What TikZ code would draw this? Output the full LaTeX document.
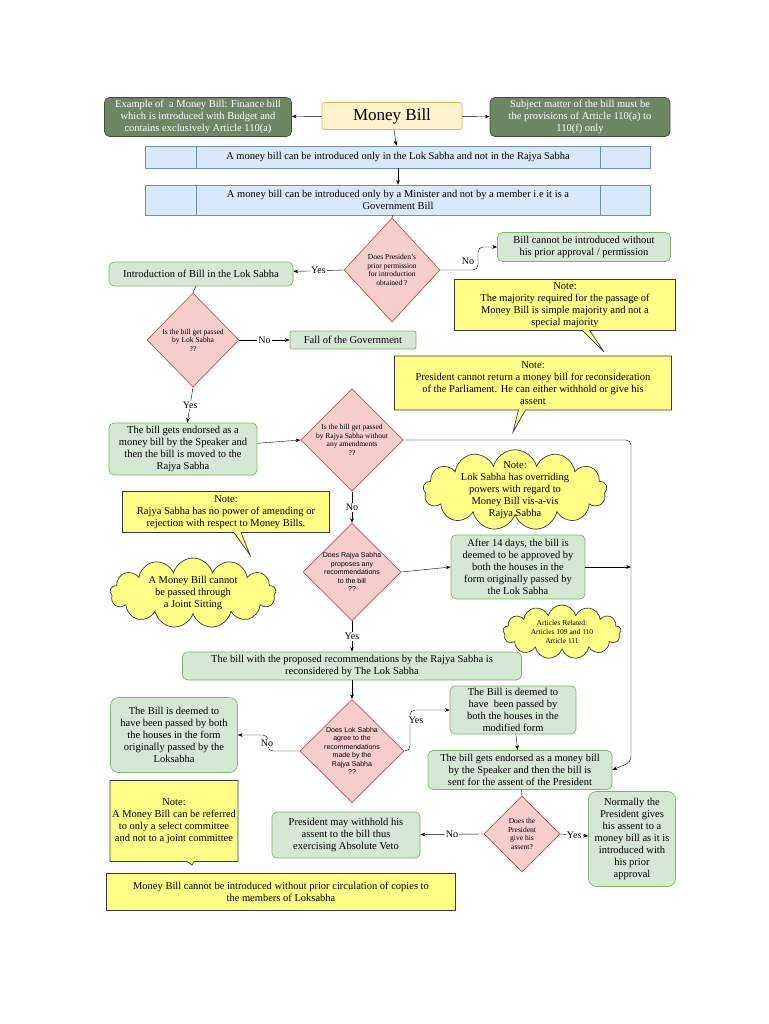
\documentclass[tikz,border=0pt]{standalone}
\usepackage{fontspec}
\setmainfont{Liberation Serif}
\newfontfamily\diasans{Liberation Sans}
\usetikzlibrary{shapes.geometric,shapes.symbols,shapes.callouts,arrows.meta,positioning}
\definecolor{gfill}{HTML}{D5E8D4}\definecolor{gline}{HTML}{82B366}
\definecolor{rfill}{HTML}{F8CECC}\definecolor{rline}{HTML}{B85450}
\definecolor{bfill}{HTML}{DAE8FC}\definecolor{bline}{HTML}{6C8EBF}
\definecolor{yfill}{HTML}{FFFF88}\definecolor{yline}{HTML}{36393D}
\definecolor{dfill}{HTML}{6D8764}\definecolor{dline}{HTML}{3A5431}
\definecolor{mfill}{HTML}{FFF2CC}\definecolor{mline}{HTML}{D6B656}
\tikzset{
  base/.style={font=\fontsize{10.5}{12}\selectfont, align=center, inner sep=2pt, line width=0.7pt},
  greenbox/.style={base, draw=gline, fill=gfill, rounded corners=5pt},
  darkbox/.style={base, draw=dline, fill=dfill, text=white, rounded corners=5pt},
  bluebar/.style={base, draw=bline, fill=bfill, minimum width=505pt},
  dia/.style={diamond, draw=rline, fill=rfill, font=\fontsize{7.5}{8.5}\selectfont,
    align=center, inner sep=0pt, line width=0.7pt},
  note/.style={base, rectangle callout, draw=yline, fill=yfill},
  notebox/.style={base, draw=yline, fill=yfill},
  bubble/.style={base, cloud, cloud puffs=13, cloud ignores aspect, draw=yline, fill=yfill, inner sep=-8pt},
  lab/.style={font=\fontsize{10}{11}\selectfont, fill=white, inner sep=1pt},
}
\begin{document}
\begin{tikzpicture}[x=1pt,y=-1pt,>=Stealth]
\useasboundingbox (0,0) rectangle (768,1024);

\node[base, draw=mline, fill=mfill, rounded corners=3pt, minimum width=140pt, minimum height=27pt,
  font=\fontsize{17}{19}\selectfont] (money) at (392,116) {Money Bill};
\node[darkbox, minimum width=187pt, minimum height=39pt] (example) at (198,117)
  {Example of~ a Money Bill: Finance bill\\which is introduced with Budget and\\contains exclusively Article 110(a)};
\node[darkbox, minimum width=180pt, minimum height=39pt] (subject) at (580,117)
  {Subject matter of the bill must be\\the provisions of Article 110(a) to\\110(f) only};

\node[bluebar, minimum height=22pt] (onlyls) at (398,157)
  {A money bill can be introduced only in the Lok Sabha and not in the Rajya Sabha};
\node[bluebar, minimum height=30pt] (minister) at (398,200)
  {A money bill can be introduced only by a Minister and not by a member i.e it is a\\Government Bill};
\foreach \b in {onlyls,minister}{
  \draw[bline, line width=0.7pt] ([xshift=51pt]\b.north west) -- ([xshift=51pt]\b.south west);
  \draw[bline, line width=0.7pt] ([xshift=-51pt]\b.north east) -- ([xshift=-51pt]\b.south east);
}

\node[dia, minimum width=96pt, minimum height=104pt] (permit) at (392,270)
  {Does Presiden's\\prior permission\\for introduction\\obtained ?};
\node[greenbox, minimum width=173pt, minimum height=29pt] (noapprove) at (584,247)
  {Bill cannot be introduced without\\his prior approval / permission};
\node[greenbox, minimum width=184pt, minimum height=24pt] (intro) at (201,274)
  {Introduction of Bill in the Lok Sabha};
\node[note, minimum width=221pt, minimum height=51pt, callout absolute pointer={(604,352)}] (majority) at (565,305)
  {Note:\\The majority required for the passage of\\Money Bill is simple majority and not a\\special majority};

\node[dia, minimum width=92pt, minimum height=94pt] (lspass) at (193,340)
  {Is the bill get passed\\by Lok Sabha\\??};
\node[greenbox, minimum width=126pt, minimum height=18pt, rounded corners=2pt] (fall) at (353,340)
  {Fall of the Government};
\node[note, minimum width=277pt, minimum height=54pt, callout absolute pointer={(513,432)}] (noreturn) at (533,383)
  {Note:\\President cannot return a money bill for reconsideration\\of the Parliament. He can either withhold or give his\\assent};

\node[greenbox, minimum width=148pt, minimum height=52pt] (endorsed) at (183,449)
  {The bill gets endorsed as a\\money bill by the Speaker and\\then the bill is moved to the\\Rajya Sabha};
\node[dia, minimum width=96pt, minimum height=96pt] (rspass) at (352,440)
  {Is the bill get passed\\by Rajya Sabha without\\any amendments\\??};
\node[bubble, minimum width=184pt, minimum height=74pt] (override) at (515,490)
  {Note:\\Lok Sabha has overriding\\powers with regard to\\Money Bill vis-a-vis\\Rajya Sabha};
\node[note, minimum width=207pt, minimum height=41pt, callout absolute pointer={(250,555)}] (noamend) at (226,512)
  {Note:\\Rajya Sabha has no power of amending or\\rejection with respect to Money Bills.};

\node[dia, minimum width=98pt, minimum height=96pt, font=\diasans\fontsize{7}{8.5}\selectfont] (recomm) at (352,572)
  {Does Rajya Sabha\\proposes any\\recommendations\\to the bill\\??};
\node[greenbox, minimum width=134pt, minimum height=64pt] (after14) at (518,567)
  {After 14 days, the bill is\\deemed to be approved by\\both the houses in the\\form originally passed by\\the Lok Sabha};
\node[bubble, minimum width=166pt, minimum height=70pt] (joint) at (193,593)
  {A Money Bill cannot\\be passed through\\a Joint Sitting};
\node[bubble, minimum width=118pt, minimum height=54pt, font=\fontsize{7.5}{9}\selectfont] (articles) at (562,632)
  {Articles Related:\\Articles 109 and 110\\Article 111};

\node[greenbox, minimum width=339pt, minimum height=28pt] (recon) at (352,666)
  {The bill with the proposed recommendations by the Rajya Sabha is\\reconsidered by The Lok Sabha};

\node[dia, minimum width=104pt, minimum height=96pt, font=\diasans\fontsize{7}{8.5}\selectfont] (lsagree) at (352,751)
  {Does Lok Sabha\\agree to the\\recommendations\\made by the\\Rajya Sabha\\??};
\node[greenbox, minimum width=127pt, minimum height=75pt, rounded corners=8pt] (deemedorig) at (174,735)
  {The Bill is deemed to\\have been passed by both\\the houses in the form\\originally passed by the\\Loksabha};
\node[greenbox, minimum width=126pt, minimum height=48pt] (deemedmod) at (513,710)
  {The Bill is deemed to\\have~ been passed by\\both the houses in the\\modified form};
\node[greenbox, minimum width=184pt, minimum height=39pt] (sent) at (520,770)
  {The bill gets endorsed as a money bill\\by the Speaker and then the bill is\\sent for the assent of the President};

\node[note, minimum width=119pt, minimum height=81pt, callout absolute pointer={(192,865)}] (select) at (174,821)
  {Note:\\A Money Bill can be referred\\to only a select committee\\and not to a joint committee};
\node[dia, minimum width=76pt, minimum height=76pt] (assent) at (522,834)
  {Does the\\President\\give his\\assent?};
\node[greenbox, minimum width=148pt, minimum height=46pt] (withhold) at (346,835)
  {President may withhold his\\assent to the bill thus\\exercising Absolute Veto};
\node[greenbox, minimum width=87pt, minimum height=95pt, rounded corners=8pt] (normally) at (632,839)
  {Normally the\\President gives\\his assent to a\\money bill as it is\\introduced with\\his prior\\approval};
\node[notebox, minimum width=349pt, minimum height=37pt] (circul) at (281,892)
  {Money Bill cannot be introduced without prior circulation of copies to\\the members of Loksabha};

% connectors
\draw[->] (money) -- (example);
\draw[->] (money) -- (subject);
\draw[->] (money) -- (onlyls);
\draw[->] (onlyls) -- (minister);
\draw (minister) -- (permit.north);
\draw[->] (permit.west) -- node[lab]{Yes} (intro);
\draw[->, rounded corners=5pt] (permit.east) -- (478,270) -- (478,247) -- (noapprove.west);
\node[lab] at (468,261) {No};
\draw (intro) -- (lspass.north);
\draw[->] (lspass.east) -- node[lab]{No} (fall);
\draw[->] (lspass.south) -- node[lab]{Yes} (endorsed);
\draw[->] (endorsed) -- (rspass.west);
\draw[->, rounded corners=5pt] (rspass.east) -- (631,440) -- (631,762) -- (sent.east);
\draw[->] (rspass.south) -- node[lab]{No} (recomm.north);
\draw[->] (recomm.east) -- (after14.west);
\draw[->] (after14.east) -- (631,567);
\draw[->] (recomm.south) -- node[lab]{Yes} (recon);
\draw[->] (recon) -- (lsagree.north);
\draw[->, rounded corners=5pt] (lsagree.west) -- (268,751) -- (268,735) -- (deemedorig.east);
\node[lab] at (267,743) {No};
\draw[->, rounded corners=5pt] (lsagree.east) -- (410,751) -- (410,710) -- (deemedmod.west);
\node[lab] at (416,720) {Yes};
\draw[->] (deemedmod) -- (sent);
\draw (sent) -- (assent.north);
\draw[->] (assent.west) -- node[lab]{No} (withhold);
\draw[->] (assent.east) -- node[lab]{Yes} (normally);
\end{tikzpicture}
\end{document}
